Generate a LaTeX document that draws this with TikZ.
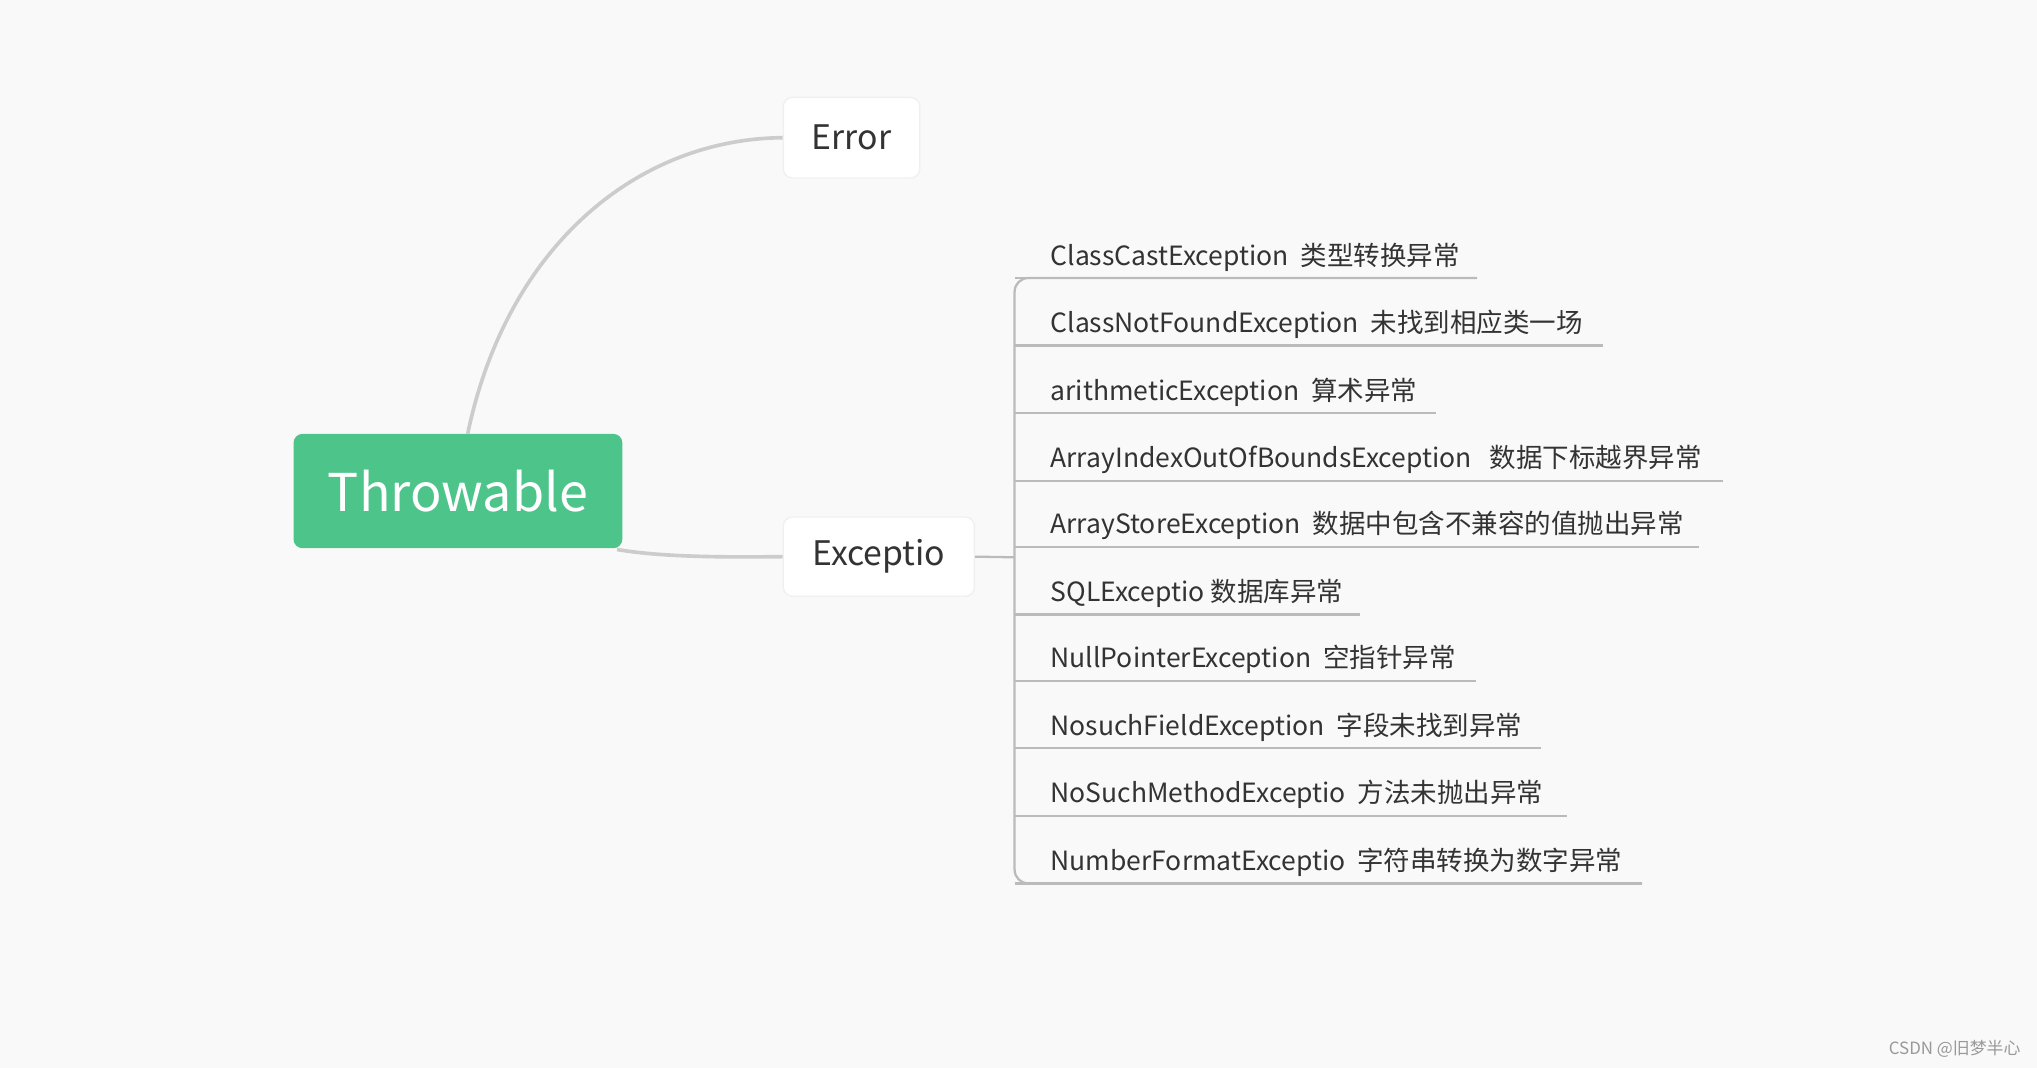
\documentclass[tikz,border=0pt]{standalone}
\usepackage{fontspec}
\setmainfont{Noto Sans CJK SC}
\usetikzlibrary{shadows}
\definecolor{bg}{HTML}{F9F9F9}
\definecolor{grn}{HTML}{4DC48A}
\definecolor{txt}{HTML}{333333}
\definecolor{lnc}{HTML}{CCCCCC}
\definecolor{ulc}{HTML}{BBBBBB}
\begin{document}
\begin{tikzpicture}[x=0.01cm,y=-0.01cm,
  sub/.style={draw=black!6,line width=0.3pt,fill=white,rounded corners=2pt,text=txt,font=\fontsize{7.4}{9}\selectfont,inner sep=0},
  item/.style={anchor=base west,text=txt,font=\fontsize{5.8}{7}\selectfont,inner sep=0},
  conn/.style={draw=lnc,line width=0.8pt},
  ul/.style={draw=ulc,line width=0.5pt}]
\useasboundingbox (0,0) rectangle (1568,822);
\fill[bg] (0,0) rectangle (1568,822);
\node[fill=grn,rounded corners=2pt,minimum width=2.53cm,minimum height=0.88cm,inner sep=0,text=white,font=\fontsize{11.4}{13}\selectfont] (thr) at (352.5,378) {Throwable};
\node[sub,minimum width=1.05cm,minimum height=0.62cm] (err) at (655.5,106) {Error};
\node[sub,minimum width=1.47cm,minimum height=0.61cm] (exc) at (676.5,428.5) {Exceptio};
\draw[conn] (360,334) .. controls (390,190) and (490,107) .. (err.west);
\draw[conn] (475,423) .. controls (510,429) and (560,429) .. (exc.west);
\coordinate (j) at (781,429);
\draw[ul] (exc.east) -- (j);
\draw[ul,rounded corners=3pt] (1137,214) -- (781,214) -- (781,680) -- (1264,680);
\foreach \y/\xe/\t in {
 214/1137/{ClassCastException\ \ 类型转换异常},
 266/1234/{ClassNotFoundException\ \ 未找到相应类一场},
 318/1105/{arithmeticException\ \ 算术异常},
 370/1326/{ArrayIndexOutOfBoundsException\ \ \ 数据下标越界异常},
 421/1308/{ArrayStoreException\ \ 数据中包含不兼容的值抛出异常},
 473/1047/{SQLExceptio 数据库异常},
 524/1136/{NullPointerException\ \ 空指针异常},
 576/1186/{NosuchFieldException\ \ 字段未找到异常},
 628/1206/{NoSuchMethodExceptio\ \ 方法未抛出异常},
 680/1264/{NumberFormatExceptio\ \ 字符串转换为数字异常}}{
 \draw[ul] (781,\y) -- (\xe,\y);
 \node[item] at (808,\y-10) {\t};
}
\node[anchor=base east,text=gray!80,font=\fontsize{3.7}{4}\selectfont,inner sep=0] (wm) at (1556,812) {CSDN @旧梦半心};
\end{tikzpicture}
\end{document}
